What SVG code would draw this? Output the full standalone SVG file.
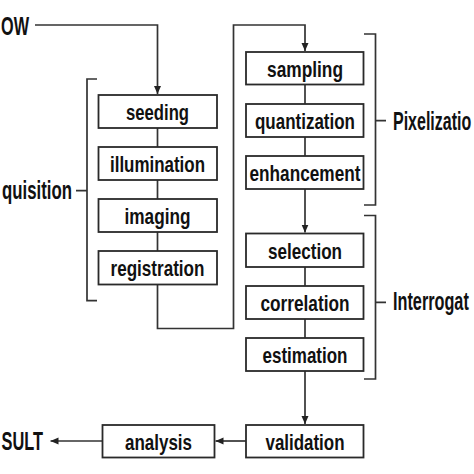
<svg xmlns="http://www.w3.org/2000/svg" width="474" height="474" viewBox="0 0 474 474">
<defs>
<style>
.box{fill:#fff;stroke:#2a2a2a;stroke-width:1.8}
.t{font-family:"Liberation Sans",Arial,sans-serif;font-weight:bold;font-size:22px;fill:#111;text-anchor:middle}
.lbl{font-family:"Liberation Sans",Arial,sans-serif;font-weight:bold;font-size:25px;fill:#111}
.ln{fill:none;stroke:#333;stroke-width:1.7}
</style>
<marker id="ah" markerUnits="userSpaceOnUse" markerWidth="8" markerHeight="8" refX="8" refY="3.5" orient="auto">
<path d="M0,0 L8,3.5 L0,7 z" fill="#222"/>
</marker>
</defs>
<rect width="474" height="474" fill="#fff"/>

<g id="connectors">
<path class="ln" d="M35,25 H157.5 V94" marker-end="url(#ah)"/>
<path class="ln" d="M157.5,128 V147"/>
<path class="ln" d="M157.5,180 V199"/>
<path class="ln" d="M157.5,232 V251"/>
<path class="ln" d="M157.5,285 V328.5 H233.5 V25 H305 V51" marker-end="url(#ah)"/>
<path class="ln" d="M305,84.5 V104"/>
<path class="ln" d="M305,137 V156"/>
<path class="ln" d="M305,189 V232.5" marker-end="url(#ah)"/>
<path class="ln" d="M305,267 V286"/>
<path class="ln" d="M305,319 V338"/>
<path class="ln" d="M305,371 V424" marker-end="url(#ah)"/>
<path class="ln" d="M246,441 H215.5" marker-end="url(#ah)"/>
<path class="ln" d="M102,441 H50.5" marker-end="url(#ah)"/>
<path class="ln" d="M97,79 H87 V300.7 H97 M76,190.7 H87"/>
<path class="ln" d="M364,34 H375.5 V205 H364 M375.5,120.7 H386"/>
<path class="ln" d="M364,215.5 H375.5 V379 H364 M375.5,302.3 H386"/>
</g>

<g id="seeding"><rect class="box" x="98.5" y="95" width="118.5" height="33"/><text class="t" x="157.5" y="120" textLength="63" lengthAdjust="spacingAndGlyphs">seeding</text></g>
<g id="illumination"><rect class="box" x="98.5" y="147" width="118.5" height="33"/><text class="t" x="157.5" y="172" textLength="95" lengthAdjust="spacingAndGlyphs">illumination</text></g>
<g id="imaging"><rect class="box" x="98.5" y="199" width="118.5" height="33"/><text class="t" x="157.5" y="224" textLength="66" lengthAdjust="spacingAndGlyphs">imaging</text></g>
<g id="registration"><rect class="box" x="98.5" y="251" width="118.5" height="33.5"/><text class="t" x="157.5" y="276" textLength="94" lengthAdjust="spacingAndGlyphs">registration</text></g>

<g id="sampling"><rect class="box" x="246" y="52" width="117.5" height="32.5"/><text class="t" x="305" y="77" textLength="76" lengthAdjust="spacingAndGlyphs">sampling</text></g>
<g id="quantization"><rect class="box" x="246" y="104" width="117.5" height="33"/><text class="t" x="305" y="129" textLength="100" lengthAdjust="spacingAndGlyphs">quantization</text></g>
<g id="enhancement"><rect class="box" x="246" y="156" width="117.5" height="33"/><text class="t" x="305" y="181" textLength="111" lengthAdjust="spacingAndGlyphs">enhancement</text></g>
<g id="selection"><rect class="box" x="246" y="233.5" width="117.5" height="33.5"/><text class="t" x="305" y="258.5" textLength="74" lengthAdjust="spacingAndGlyphs">selection</text></g>
<g id="correlation"><rect class="box" x="246" y="286" width="117.5" height="33"/><text class="t" x="305" y="311" textLength="89" lengthAdjust="spacingAndGlyphs">correlation</text></g>
<g id="estimation"><rect class="box" x="246" y="338" width="117.5" height="33"/><text class="t" x="305" y="363" textLength="85" lengthAdjust="spacingAndGlyphs">estimation</text></g>
<g id="validation"><rect class="box" x="246" y="425" width="117.5" height="32.5"/><text class="t" x="305" y="450" textLength="79" lengthAdjust="spacingAndGlyphs">validation</text></g>
<g id="analysis"><rect class="box" x="102.5" y="425" width="112" height="32.5"/><text class="t" x="158.5" y="450" textLength="67" lengthAdjust="spacingAndGlyphs">analysis</text></g>

<g id="labels">
<text class="lbl" x="1" y="35" textLength="28" lengthAdjust="spacingAndGlyphs">OW</text>
<text class="lbl" x="72" y="199" text-anchor="end" textLength="70" lengthAdjust="spacingAndGlyphs">quisition</text>
<text class="lbl" x="1.5" y="450" textLength="41.5" lengthAdjust="spacingAndGlyphs">SULT</text>
<text class="lbl" transform="translate(393,130) scale(0.64,1)">Pixelizatio</text>
<text class="lbl" transform="translate(393,310) scale(0.65,1)">Interrogat</text>
</g>
</svg>
